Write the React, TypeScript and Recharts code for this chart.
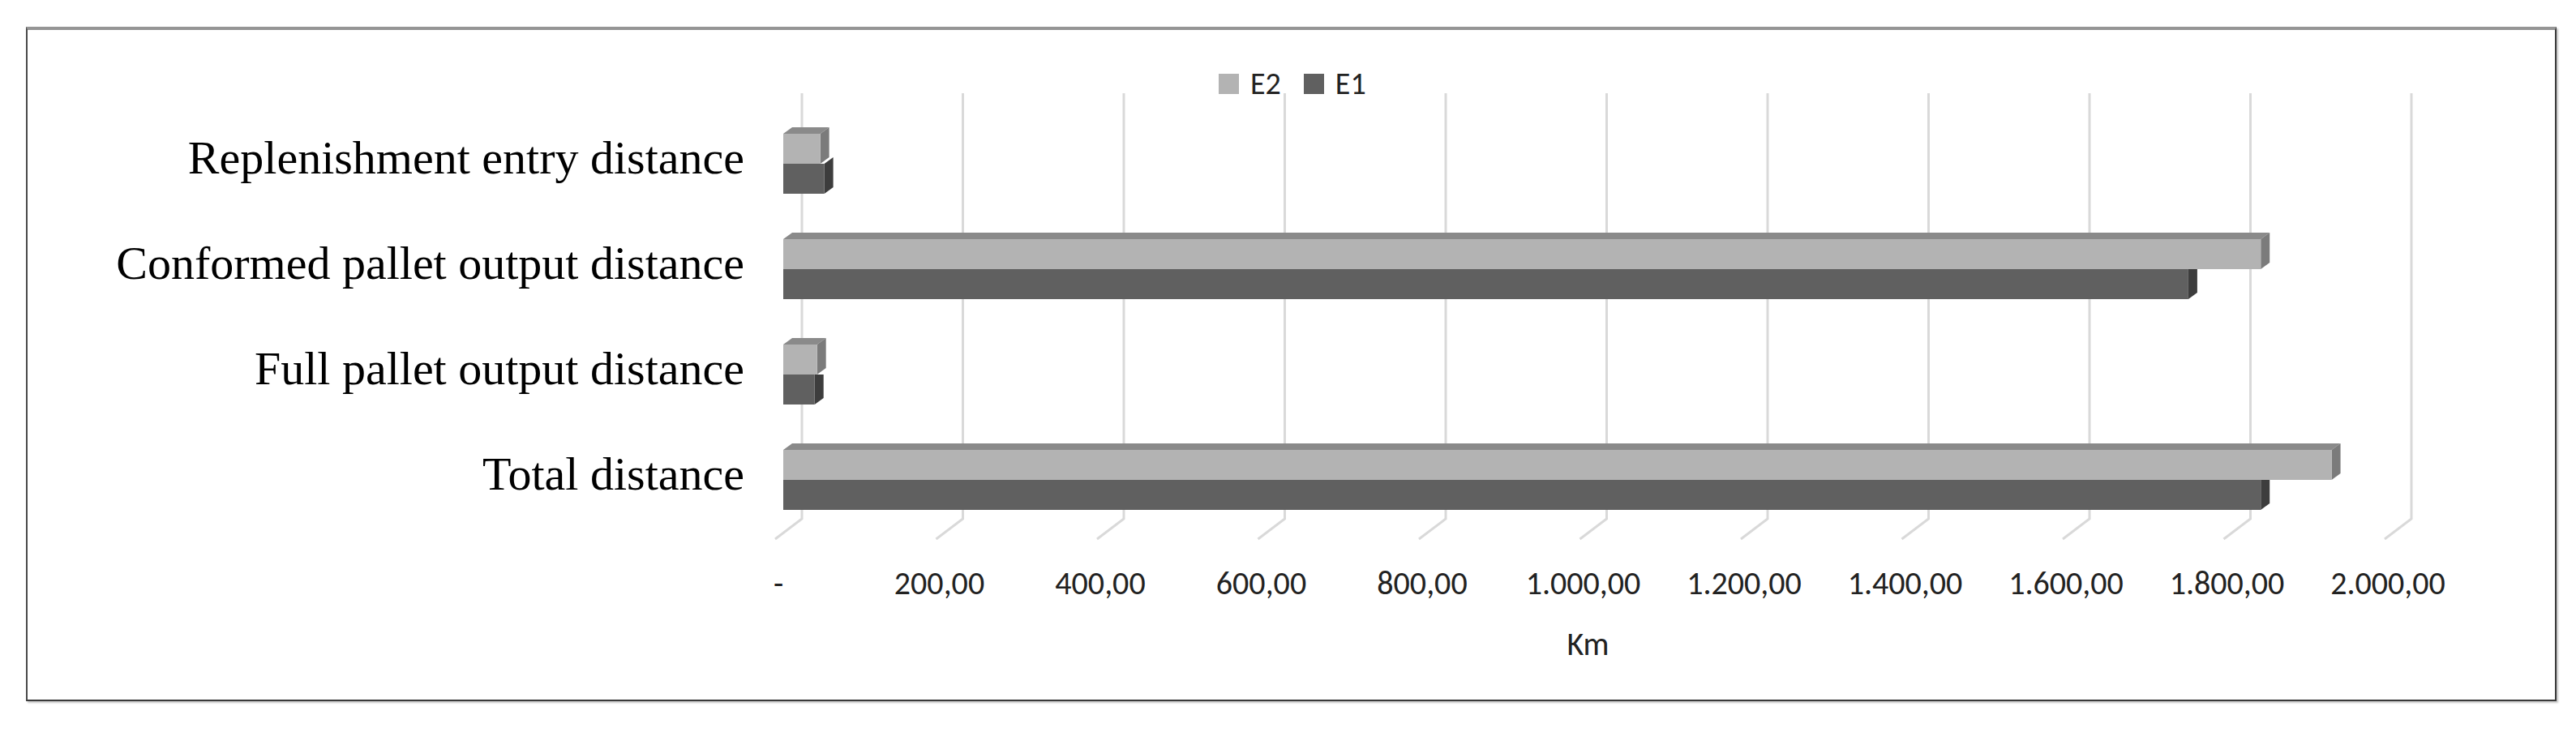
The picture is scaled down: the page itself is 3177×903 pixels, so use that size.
import React from 'react';
import { BarChart, Bar, XAxis, YAxis, CartesianGrid, Legend } from 'recharts';

const categories = [
    'Replenishment entry distance',
    'Conformed pallet output distance',
    'Full pallet output distance',
    'Total distance'
];
const e2Values = [46, 1836, 42, 1924];
const e1Values = [51, 1746, 39, 1836];
const xTicks = [0, 200, 400, 600, 800, 1000, 1200, 1400, 1600, 1800, 2000];
const legendOrder = ['E2', 'E1'];

const data = categories.map((name, i) => ({ name, E2: e2Values[i], E1: e1Values[i] }));

// 3d look: bar depth and wall depth (offsets from the bar plane)
const DX = 11;
const DY = 8;
const WALL_DX = 23;
const WALL_DY = 17;
const FLOOR_DX = -10;
const FLOOR_DY = 8;

const E2_COLORS = { front: '#b3b3b3', top: '#8a8a8a', side: '#7b7b7b' };
const E1_COLORS = { front: '#606060', top: '#4e4e4e', side: '#3d3d3d' };

const labelFont = "Carlito, Calibri, Roboto, 'Liberation Sans', sans-serif";

function formatKm(v: number) {
    if (v === 0) return '-';
    const whole = Math.floor(v).toString().replace(/\B(?=(\d{3})+(?!\d))/g, '.');
    return `${whole},00`;
}

const E2Shape = (props: any) => {
    const { x, y, width, height } = props;
    const c = E2_COLORS;
    return (
        <g>
            <path d={`M${x},${y} L${x + DX},${y - DY} L${x + width + DX},${y - DY} L${x + width},${y} Z`} fill={c.top} />
            <path d={`M${x + width},${y} L${x + width + DX},${y - DY} L${x + width + DX},${y + height - DY} L${x + width},${y + height} Z`} fill={c.side} />
            <rect x={x} y={y} width={width} height={height} fill={c.front} />
        </g>
    );
};

const E1Shape = (props: any) => {
    const { x, y, width, height, payload } = props;
    const c = E1_COLORS;
    const longer = payload && payload.E1 > payload.E2;
    const side = longer
        ? `M${x + width},${y} L${x + width + DX},${y - DY} L${x + width + DX},${y + height - DY} L${x + width},${y + height} Z`
        : `M${x + width},${y} L${x + width + DX},${y} L${x + width + DX},${y + height - DY} L${x + width},${y + height} Z`;
    return (
        <g>
            <path d={side} fill={c.side} />
            <rect x={x} y={y} width={width} height={height} fill={c.front} />
        </g>
    );
};

const GridLine = (props: any) => {
    const { x1, y1, y2 } = props;
    const d = `M${x1 + WALL_DX},${y1 - 22} L${x1 + WALL_DX},${y2 - WALL_DY} L${x1 + FLOOR_DX},${y2 + FLOOR_DY}`;
    return <path key={props.key} d={d} stroke="#d9d9d9" strokeWidth={3} fill="none" />;
};

const CategoryTick = (props: any) => {
    const { x, y, payload } = props;
    return (
        <text
            x={x - 48}
            y={y + 12}
            textAnchor="end"
            fontFamily="'Liberation Serif', 'Times New Roman', serif"
            fontSize={58}
            fill="#000"
        >
            {payload.value}
        </text>
    );
};

const KmTick = (props: any) => {
    const { x, y, payload } = props;
    return (
        <text x={x - 6} y={y + 76} textAnchor="middle" fontFamily={labelFont} fontSize={40} fill="#222">
            {formatKm(payload.value)}
        </text>
    );
};

const renderLegend = (props: any) => {
    const items = [...(props.payload || [])].sort(
        (a: any, b: any) => legendOrder.indexOf(a.value) - legendOrder.indexOf(b.value)
    );
    return (
        <div style={{ display: 'flex', alignItems: 'center', fontFamily: labelFont, fontSize: 38, color: '#222' }}>
            {items.map((entry: any) => (
                <div key={entry.value} style={{ display: 'flex', alignItems: 'center', marginRight: 28 }}>
                    <span style={{ width: 25, height: 25, background: entry.color, display: 'inline-block', marginRight: 14 }} />
                    <span>{entry.value}</span>
                </div>
            ))}
        </div>
    );
};

export default function App() {
    return (
        <div style={{ position: 'absolute', left: 0, top: 0, width: 3177, height: 903, background: '#fff' }}>
            <div
                style={{
                    position: 'absolute',
                    left: 32,
                    top: 33,
                    width: 3117,
                    height: 826,
                    borderLeft: '2px solid #4a4a4a',
                    borderRight: '2px solid #3a3a3a',
                    borderBottom: '2px solid #3a3a3a',
                    borderTop: '4px solid #959595',
                    boxShadow: '2px 2px 2px #c4c4c4'
                }}
            />
            <div style={{ position: 'absolute', left: 0, top: 0 }}>
                <BarChart
                    width={3177}
                    height={903}
                    data={data}
                    layout="vertical"
                    barGap={0}
                    margin={{ top: 137, right: 226, left: 26, bottom: 86 }}
                >
                    <CartesianGrid horizontal={false} vertical={GridLine} />
                    <XAxis
                        type="number"
                        domain={[0, 2000]}
                        ticks={xTicks}
                        interval={0}
                        axisLine={false}
                        tickLine={false}
                        tickSize={0}
                        tickMargin={0}
                        height={160}
                        tick={<KmTick />}
                        label={{ value: 'Km', position: 'insideBottom', offset: 9, fill: '#222', fontSize: 40, fontFamily: labelFont }}
                    />
                    <YAxis
                        type="category"
                        dataKey="name"
                        width={940}
                        axisLine={false}
                        tickLine={false}
                        tickSize={0}
                        tickMargin={0}
                        interval={0}
                        tick={<CategoryTick />}
                    />
                    <Legend
                        layout="horizontal"
                        verticalAlign="middle"
                        align="center"
                        content={renderLegend}
                        wrapperStyle={{ top: 80, left: 1503, width: 'auto' }}
                    />
                    <Bar dataKey="E2" name="E2" fill={E2_COLORS.front} barSize={37} shape={<E2Shape />} isAnimationActive={false} />
                    <Bar dataKey="E1" name="E1" fill={E1_COLORS.front} barSize={37} shape={<E1Shape />} isAnimationActive={false} />
                </BarChart>
            </div>
        </div>
    );
}
